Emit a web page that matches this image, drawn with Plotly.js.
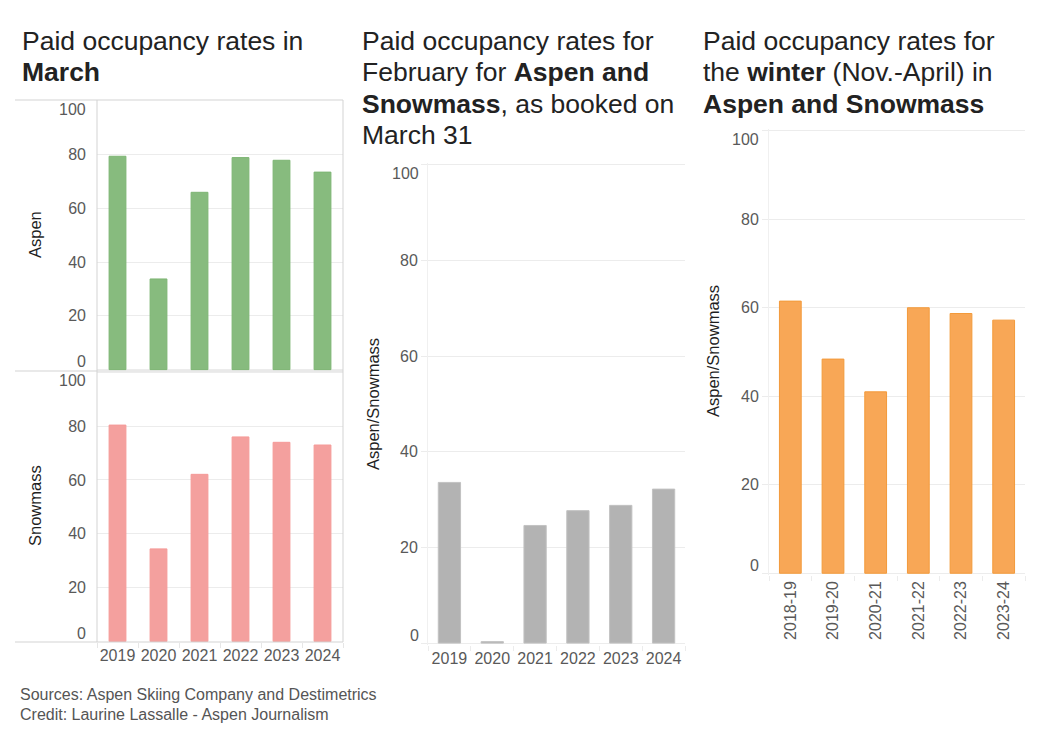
<!DOCTYPE html>
<html>
<head>
<meta charset="utf-8">
<script src="https://cdn.plot.ly/plotly-3.0.1.min.js"></script>
<style>
  html, body { margin: 0; padding: 0; background: #ffffff; }
  #chart { width: 1040px; height: 744px; }
</style>
</head>
<body>
<div id="chart"></div>
<script>
// Paid occupancy rates (%), Aspen and Snowmass
const years = ["2019", "2020", "2021", "2022", "2023", "2024"];
const seasons = ["2018-19", "2019-20", "2020-21", "2021-22", "2022-23", "2023-24"];

// March occupancy
const marchAspen = [79.3, 33.7, 65.9, 78.8, 77.8, 73.4];
const marchSnowmass = [80.4, 34.4, 62.1, 76.0, 74.0, 73.0];

// February, as booked on March 31 (Aspen/Snowmass combined)
const februaryBooked = [33.6, 0.3, 24.6, 27.7, 28.8, 32.2];

// Winter season, Nov.-April (Aspen/Snowmass combined)
const winterSeason = [61.5, 48.4, 41.0, 60.0, 58.7, 57.2];

const W = 1040, H = 744;
const px = v => v / W;          // horizontal pixel -> paper
const py = v => 1 - v / H;      // vertical pixel -> paper

const FONT = "Liberation Sans, Arial, sans-serif";
const TICK_COLOR = "#595959";
const TICK_SIZE = 16;
const GRID = "#ececec";
const FRAME = "#d3d3d3";

const traces = [
  { type: "bar", x: years, y: marchAspen, xaxis: "x", yaxis: "y", width: 0.41,
    marker: { color: "#87bb7e", line: { color: "#7db573", width: 1 } }, hoverinfo: "x+y" },
  { type: "bar", x: years, y: marchSnowmass, xaxis: "x2", yaxis: "y2", width: 0.41,
    marker: { color: "#f4a09e", line: { color: "#f59a98", width: 1 } }, hoverinfo: "x+y" },
  { type: "bar", x: years, y: februaryBooked, xaxis: "x3", yaxis: "y3", width: 0.52,
    marker: { color: "#b3b3b3", line: { color: "#c2c2c2", width: 1 } }, hoverinfo: "x+y" },
  { type: "bar", x: seasons, y: winterSeason, xaxis: "x4", yaxis: "y4", width: 0.51,
    marker: { color: "#f8a756", line: { color: "#f39a3a", width: 1 } }, hoverinfo: "x+y" }
];

const tickVals = [0, 20, 40, 60, 80, 100];
const tickText = ["", "20", "40", "60", "80", ""];

function yAxis(anchor, domTop, domBottom, range, extra) {
  return Object.assign({
    anchor: anchor,
    domain: [py(domBottom), py(domTop)],
    range: range,
    tickvals: tickVals,
    ticktext: tickText,
    showgrid: true,
    gridcolor: GRID,
    gridwidth: 1,
    zeroline: false,
    showline: false,
    tickfont: { family: FONT, size: TICK_SIZE, color: TICK_COLOR },
    fixedrange: true
  }, extra || {});
}

function xAxis(anchor, domLeft, domRight, extra) {
  return Object.assign({
    anchor: anchor,
    domain: [px(domLeft), px(domRight)],
    type: "category",
    range: [-0.5, 5.5],
    showgrid: false,
    zeroline: false,
    showline: false,
    tickangle: 0,
    tickfont: { family: FONT, size: TICK_SIZE, color: TICK_COLOR },
    fixedrange: true
  }, extra || {});
}

const layout = {
  width: W, height: H,
  margin: { l: 0, r: 0, t: 0, b: 0 },
  paper_bgcolor: "#ffffff",
  plot_bgcolor: "#ffffff",
  showlegend: false,
  font: { family: FONT },

  xaxis: xAxis("y", 97, 343, { showticklabels: false, ticks: "" }),
  yaxis: yAxis("x", 100, 371, [-0.5, 100.2], { ticks: "", ticklabelstandoff: 10 }),

  xaxis2: xAxis("y2", 97, 343, { tickson: "boundaries", ticks: "outside", ticklen: 5,
    tickcolor: "#e6e6e6", ticklabelstandoff: 2 }),
  yaxis2: yAxis("x2", 371, 642, [-0.2, 100.5], { ticks: "", ticklabelstandoff: 10 }),

  xaxis3: xAxis("y3", 428, 685, { tickson: "boundaries", ticks: "outside", ticklen: 5,
    tickcolor: "#ececec", ticklabelstandoff: 2 }),
  yaxis3: yAxis("x3", 163, 645, [-0.4, 100.4], { ticks: "outside", ticklen: 6, tickcolor: GRID,
    showline: true, linecolor: "#f0f0f0" }),

  xaxis4: xAxis("y4", 769, 1025, { tickson: "boundaries", ticks: "outside", ticklen: 5,
    tickcolor: "#ececec", tickangle: -90, ticklabelstandoff: 2 }),
  yaxis4: yAxis("x4", 129, 575, [-0.4, 100.4], { ticks: "outside", ticklen: 6, tickcolor: GRID,
    showline: true, linecolor: "#f0f0f0" }),

  shapes: [],
  annotations: []
};

// Frame around the two stacked March panels
const frameLine = (x0, y0, x1, y1) => ({
  type: "line", xref: "paper", yref: "paper",
  x0: px(x0), y0: py(y0), x1: px(x1), y1: py(y1),
  line: { color: FRAME, width: 1 }
});
layout.shapes.push(
  frameLine(15, 100, 343, 100),
  frameLine(15, 371, 343, 371),
  frameLine(15, 642, 343, 642),
  frameLine(97, 100, 97, 642),
  frameLine(343, 100, 343, 642)
);

// End labels (0 and 100) sit just inside the panel edges
function endLabels(yref, rightEdge) {
  return [
    { xref: "paper", yref: yref, x: px(rightEdge), y: 100, yshift: -8.5, text: "100",
      xanchor: "right", yanchor: "middle", showarrow: false,
      font: { family: FONT, size: TICK_SIZE, color: TICK_COLOR } },
    { xref: "paper", yref: yref, x: px(rightEdge), y: 0, yshift: 8, text: "0",
      xanchor: "right", yanchor: "middle", showarrow: false,
      font: { family: FONT, size: TICK_SIZE, color: TICK_COLOR } }
  ];
}
layout.annotations.push(
  ...endLabels("y", 88),
  ...endLabels("y2", 88),
  ...endLabels("y3", 421),
  ...endLabels("y4", 761)
);

// Axis titles
function axisTitle(text, x, y) {
  return { xref: "paper", yref: "paper", x: px(x), y: py(y), text: text, textangle: -90,
    xanchor: "center", yanchor: "middle", showarrow: false,
    font: { family: FONT, size: 16.5, color: "#1f1f1f" } };
}
layout.annotations.push(
  axisTitle("Aspen", 35, 235),
  axisTitle("Snowmass", 35, 506),
  axisTitle("Aspen/Snowmass", 373, 404),
  axisTitle("Aspen/Snowmass", 713, 351)
);

// Panel headings, one annotation per line
const lineCenters = [40.5, 72, 103.5, 134.5];
function heading(lines, x) {
  return lines.map((t, i) => ({
    xref: "paper", yref: "paper", x: px(x), y: py(lineCenters[i]), text: t,
    xanchor: "left", yanchor: "middle", showarrow: false, align: "left",
    font: { family: FONT, size: 26.5, color: "#222222" }
  }));
}
layout.annotations.push(
  ...heading(["Paid occupancy rates in", "<b>March</b>"], 20),
  ...heading(["Paid occupancy rates for", "February for <b>Aspen and</b>",
              "<b>Snowmass</b>, as booked on", "March 31"], 360),
  ...heading(["Paid occupancy rates for", "the <b>winter</b> (Nov.-April) in",
              "<b>Aspen and Snowmass</b>"], 701)
);

// Source and credit lines
layout.annotations.push(
  { xref: "paper", yref: "paper", x: px(18), y: py(694),
    text: "Sources: Aspen Skiing Company and Destimetrics",
    xanchor: "left", yanchor: "middle", showarrow: false,
    font: { family: FONT, size: 16, color: "#555555" } },
  { xref: "paper", yref: "paper", x: px(18), y: py(714),
    text: "Credit: Laurine Lassalle - Aspen Journalism",
    xanchor: "left", yanchor: "middle", showarrow: false,
    font: { family: FONT, size: 16, color: "#555555" } }
);

Plotly.newPlot("chart", traces, layout, { displayModeBar: false, staticPlot: true });
</script>
</body>
</html>
